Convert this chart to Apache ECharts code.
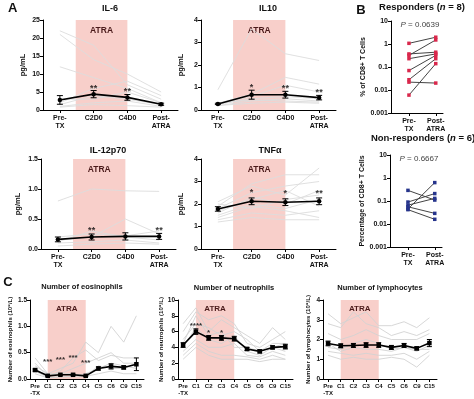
<!DOCTYPE html>
<html>
<head>
<meta charset="utf-8">
<title>ATRA panels</title>
<style>
html,body{margin:0;padding:0;background:#fff}
#main{width:474px;height:399px}
</style>
<script src="https://cdn.jsdelivr.net/npm/echarts@6/dist/echarts.min.js"></script>
</head>
<body>
<div id="main"></div>
<script>
var FONT = 'Liberation Sans, Arial, sans-serif';

// ---- panel A : cytokines ----
var cytoCats = ['Pre-\nTX', 'C2D0', 'C4D0', 'Post-\nATRA'];

var il6Mean = [2.8, 4.4, 3.5, 1.6];
var il6Sem = [1.2, 1.0, 0.8, 0.3];
var il6Stars = [[1, 6.0, '**'], [2, 5.1, '**']];
var il6Lines = [
	[22, 18, 7, 3],
	[21, 14, 10, 5],
	[12, 9, 6, 2],
	[2, 6, 8, 4],
	[1.5, 4, 3, 1.5],
	[1, 2, 2.5, 1],
	[3, 3, 5, 2],
	[0.8, 1.5, 1.2, 0.8]
];

var il10Mean = [0.27, 0.68, 0.68, 0.55];
var il10Sem = [0.03, 0.2, 0.15, 0.1];
var il10Stars = [[1, 1.0, '*'], [2, 0.95, '**'], [3, 0.78, '**']];
var il10Lines = [
	[0.9, 3.6, 2.5, 2.2],
	[0.3, 0.7, 1.45, 1.15],
	[0.25, 0.6, 1.1, 0.8],
	[0.2, 0.4, 0.5, 0.4],
	[0.25, 0.5, 0.6, 0.5],
	[0.3, 0.45, 0.4, 0.35],
	[0.2, 0.3, 0.35, 0.3]
];

var il12Mean = [0.16, 0.2, 0.21, 0.21];
var il12Sem = [0.04, 0.05, 0.06, 0.05];
var il12Stars = [[1, 0.31, '**'], [3, 0.31, '**']];
var il12Lines = [
	[0.8, 1.0, 0.97, 0.96],
	[0.15, 0.2, 0.5, 0.25],
	[0.2, 0.25, 0.22, 0.3],
	[0.1, 0.12, 0.15, 0.1],
	[0.05, 0.08, 0.1, 0.08],
	[0.12, 0.3, 0.2, 0.15]
];

var tnfMean = [1.78, 2.12, 2.08, 2.12];
var tnfSem = [0.1, 0.15, 0.15, 0.15];
var tnfStars = [[1, 2.5, '*'], [2, 2.45, '*'], [3, 2.45, '**']];
var tnfLines = [
	[2.1, 2.8, 2.4, 3.6],
	[1.9, 2.9, 3.3, 3.3],
	[1.8, 2.5, 2.8, 3.0],
	[1.6, 2.3, 2.0, 2.6],
	[1.5, 2.0, 1.8, 2.2],
	[2.0, 1.8, 2.2, 2.4],
	[1.3, 1.6, 1.5, 1.7],
	[1.4, 1.9, 1.7, 1.4],
	[1.7, 2.2, 2.6, 1.9],
	[1.2, 1.4, 1.3, 1.3]
];

// ---- panel B : CD8+ T cells (pre, post) ----
var pairCats = ['Pre-\nTX', 'Post-\nATRA'];
var respPairs = [
	[1.07, 1.97], [0.37, 0.44], [0.32, 1.5], [0.23, 0.37],
	[0.07, 0.32], [0.028, 0.23], [0.022, 0.02], [0.006, 0.14]
];
var nonRespPairs = [
	[0.29, 0.11], [0.09, 0.21], [0.066, 0.13],
	[0.056, 0.029], [0.045, 0.63], [0.042, 0.016]
];
var logTicks = [0.001, 0.01, 0.1, 1, 10];

// ---- panel C : blood counts ----
var cycleCats = ['Pre\n-TX', 'C1', 'C2', 'C3', 'C4', 'C5', 'C6', 'C9', 'C15'];

var eosMean = [0.17, 0.06, 0.08, 0.08, 0.06, 0.2, 0.24, 0.22, 0.28];
var eosSem = [0.02, 0.01, 0.01, 0.01, 0.01, 0.03, 0.05, 0.03, 0.12];
var eosStars = [[1, 0.33, '***'], [2, 0.37, '***'], [3, 0.4, '***'], [4, 0.3, '***']];
var eosLines = [
	[0.4, 0.1, 0.2, 0.3, 0.7, 0.5, 1.0, 0.7, 1.2],
	[0.3, 0.05, 0.15, 0.4, 0.55, 0.35, 0.45, 0.4, 0.4],
	[0.2, 0.05, 0.1, 0.2, 0.3, 0.4, 0.5, 0.3, 0.3],
	[0.15, 0.03, 0.05, 0.05, 0.1, 0.2, 0.3, 0.25, 0.2],
	[0.1, 0.02, 0.04, 0.05, 0.05, 0.1, 0.15, 0.1, 0.1],
	[0.25, 0.1, 0.1, 0.1, 0.05, 0.25, 0.2, 0.2, 0.3]
];

var neuMean = [4.3, 6.0, 5.2, 5.2, 5.1, 3.8, 3.5, 4.0, 4.1];
var neuSem = [0.3, 0.35, 0.3, 0.3, 0.3, 0.2, 0.2, 0.2, 0.3];
var neuStars = [[1, 6.7, '****'], [2, 5.8, '*'], [3, 5.8, '*']];
var neuLines = [
	[7.0, 9.0, 6.0, 7.5, 6.5, 5.5, 4.5, 6.5, 5.0],
	[6.0, 8.5, 7.5, 8.0, 7.0, 4.5, 4.0, 5.0, 6.0],
	[5.0, 7.0, 6.5, 5.5, 6.0, 5.0, 3.5, 4.5, 4.5],
	[4.0, 6.5, 5.0, 4.5, 5.5, 3.5, 3.0, 4.0, 3.5],
	[3.5, 5.0, 4.0, 4.0, 4.5, 3.0, 2.8, 3.5, 3.0],
	[3.0, 4.5, 3.5, 3.0, 3.0, 2.8, 2.5, 3.0, 2.5],
	[2.5, 4.0, 3.0, 2.5, 2.5, 2.5, 2.2, 2.5, 2.5],
	[4.5, 8.0, 5.5, 6.0, 4.0, 4.0, 3.5, 4.0, 4.5]
];

var lymMean = [1.8, 1.68, 1.7, 1.72, 1.72, 1.6, 1.7, 1.55, 1.82];
var lymSem = [0.12, 0.1, 0.1, 0.12, 0.12, 0.1, 0.1, 0.08, 0.18];
var lymLines = [
	[3.3, 2.8, 3.1, 3.4, 2.7, 2.7, 2.9, 2.6, 3.1],
	[2.8, 2.6, 3.4, 2.8, 2.6, 2.2, 2.4, 2.2, 2.5],
	[2.3, 2.0, 2.2, 2.5, 2.2, 2.0, 2.0, 2.0, 2.3],
	[1.8, 1.4, 1.6, 1.5, 1.5, 1.4, 1.6, 1.4, 1.7],
	[1.4, 1.3, 1.2, 1.3, 1.2, 1.2, 1.3, 1.0, 1.4],
	[1.2, 1.0, 1.1, 1.0, 1.0, 1.1, 1.0, 0.6, 1.2],
	[1.6, 1.5, 1.8, 2.0, 1.8, 1.5, 1.6, 1.5, 1.5]
];

var grids = [], xAxes = [], yAxes = [], series = [], graphics = [];

function txt(x, y, s, size, weight, extra) {
	var st = {
		text: s, x: 0, y: 0, fill: '#111',
		font: (weight || 'bold') + ' ' + size + 'px ' + FONT,
		align: 'center', verticalAlign: 'top', textAlign: 'center', textVerticalAlign: 'top'
	};
	for (var k in extra) st[k] = extra[k];
	graphics.push({ type: 'text', x: x, y: y, style: st, z: 100 });
}

function addPanel(c) {
	var i = grids.length;
	grids.push({ left: c.left, top: c.top, width: c.width, height: c.height, outerBoundsMode: 'none', containLabel: false });
	var idx = [];
	for (var k = 0; k < c.cats.length; k++) idx.push(k);
	xAxes.push({
		type: 'value', gridIndex: i, min: c.xMin, max: c.xMax,
		axisLine: { show: true, onZero: false, lineStyle: { color: '#000', width: 1 } },
		axisTick: { show: true, customValues: idx, length: 3, lineStyle: { color: '#000' } },
		axisLabel: {
			customValues: idx, margin: 4, color: '#111', fontFamily: FONT, fontWeight: 'bold',
			fontSize: c.xFont, lineHeight: c.xFont + 1,
			formatter: function (v) { return c.cats[Math.round(v)]; }
		},
		splitLine: { show: false }
	});
	var ya = {
		type: c.log ? 'log' : 'value', gridIndex: i, min: c.yMin, max: c.yMax,
		name: c.yName, nameLocation: 'middle', nameGap: c.yNameGap,
		nameTextStyle: { fontFamily: FONT, fontWeight: 'bold', fontSize: c.yNameFont, color: '#111' },
		axisLine: { show: true, onZero: false, lineStyle: { color: '#000', width: 1 } },
		axisTick: { show: true, length: 3, lineStyle: { color: '#000' } },
		axisLabel: { margin: 3, color: '#111', fontFamily: FONT, fontWeight: 'bold', fontSize: c.yFont, formatter: c.yFmt },
		splitLine: { show: false }
	};
	if (c.log) { ya.logBase = 10; ya.minorTick = { show: false }; }
	else ya.interval = c.yInterval;
	yAxes.push(ya);

	if (c.shade) {
		series.push({
			type: 'custom', xAxisIndex: i, yAxisIndex: i, silent: true, z: 1,
			data: [[c.shade[0], c.shade[1], c.yMax]],
			encode: { x: [0, 1], y: 2 },
			renderItem: function (params, api) {
				var p0 = api.coord([api.value(0), api.value(2)]);
				var p1 = api.coord([api.value(1), c.yMin]);
				return {
					type: 'group', children: [
						{ type: 'rect', shape: { x: p0[0], y: p0[1], width: p1[0] - p0[0], height: p1[1] - p0[1] }, style: { fill: '#f8cfca' } },
						{ type: 'text', x: (p0[0] + p1[0]) / 2, y: p0[1] + c.atraGap, style: { text: 'ATRA', fill: '#4a1a1a', font: 'bold ' + c.atraFont + 'px ' + FONT, align: 'center', verticalAlign: 'top' } }
					]
				};
			}
		});
	}
	(c.lines || []).forEach(function (row) {
		series.push({
			type: 'line', xAxisIndex: i, yAxisIndex: i, silent: true, z: 2,
			symbol: 'none', lineStyle: { color: c.grey, width: 0.9 },
			data: row.map(function (v, j) { return [j, v]; })
		});
	});
	if (c.mean) {
		series.push({
			type: 'line', xAxisIndex: i, yAxisIndex: i, silent: true, z: 5,
			symbol: c.symbol || 'circle', symbolSize: c.symSize || 5,
			itemStyle: { color: '#000' }, lineStyle: { color: '#000', width: 1.6 },
			data: c.mean.map(function (v, j) { return [j, v]; })
		});
		series.push({
			type: 'custom', xAxisIndex: i, yAxisIndex: i, silent: true, z: 6,
			data: c.mean.map(function (v, j) { return [j, v - c.sem[j], v + c.sem[j]]; }),
			encode: { x: 0, y: [1, 2] },
			renderItem: function (params, api) {
				var lo = api.coord([api.value(0), api.value(1)]);
				var hi = api.coord([api.value(0), api.value(2)]);
				var w = c.cap, st = { stroke: '#000', lineWidth: 1 };
				return {
					type: 'group', children: [
						{ type: 'line', shape: { x1: lo[0], y1: lo[1], x2: hi[0], y2: hi[1] }, style: st },
						{ type: 'line', shape: { x1: lo[0] - w, y1: lo[1], x2: lo[0] + w, y2: lo[1] }, style: st },
						{ type: 'line', shape: { x1: hi[0] - w, y1: hi[1], x2: hi[0] + w, y2: hi[1] }, style: st }
					]
				};
			}
		});
	}
	if (c.stars) {
		series.push({
			type: 'scatter', xAxisIndex: i, yAxisIndex: i, silent: true, z: 7,
			symbolSize: 0, data: c.stars,
			label: {
				show: true, position: 'inside', color: '#000', fontFamily: FONT, fontWeight: 'bold', fontSize: c.starFont,
				formatter: function (p) { return p.data[2]; }
			}
		});
	}
	(c.pairs || []).forEach(function (pr) {
		series.push({
			type: 'line', xAxisIndex: i, yAxisIndex: i, silent: true, z: 4,
			symbol: 'rect', symbolSize: 3.5,
			itemStyle: { color: c.dot }, lineStyle: { color: '#444', width: 1 },
			data: [[0, pr[0]], [1, pr[1]]]
		});
	});
}

function fix1(v) { return v.toFixed(1); }
function logFmt(v) {
	var r = logTicks.filter(function (t) { return Math.abs(Math.log10(t) - Math.log10(v)) < 0.01; });
	return r.length ? String(r[0]) : '';
}

var aBase = { cats: cytoCats, xMin: -0.5, xMax: 3.5, xFont: 7, yFont: 7, yName: 'pg/mL', yNameFont: 7.5, yNameGap: 16,
	grey: '#dcdcdc', symbol: 'circle', symSize: 4.5, cap: 3, starFont: 9, atraFont: 8.5, atraGap: 6 };
function ext(base, o) { var r = {}; for (var k in base) r[k] = base[k]; for (var k2 in o) r[k2] = o[k2]; return r; }

addPanel(ext(aBase, { left: 43, top: 20, width: 135, height: 90, yMin: 0, yMax: 25, yInterval: 5,
	shade: [0.47, 2], lines: il6Lines, mean: il6Mean, sem: il6Sem, stars: il6Stars }));
addPanel(ext(aBase, { left: 201, top: 20, width: 135, height: 90, yMin: 0, yMax: 4, yInterval: 1,
	shade: [0.45, 2], lines: il10Lines, mean: il10Mean, sem: il10Sem, stars: il10Stars }));
addPanel(ext(aBase, { left: 41, top: 159, width: 135, height: 90, yMin: 0, yMax: 1.5, yInterval: 0.5, yFmt: fix1, yNameGap: 19,
	shade: [0.45, 2], lines: il12Lines, mean: il12Mean, sem: il12Sem, stars: il12Stars }));
addPanel(ext(aBase, { left: 201, top: 159, width: 135, height: 90, yMin: 0, yMax: 4, yInterval: 1,
	shade: [0.45, 2], lines: tnfLines, mean: tnfMean, sem: tnfSem, stars: tnfStars }));

var bBase = { cats: pairCats, xMin: -0.67, xMax: 1.27, xFont: 7, yFont: 7, log: true, yMin: 0.001, yMax: 10,
	yFmt: logFmt, yNameFont: 7, yNameGap: 24 };
addPanel(ext(bBase, { left: 391, top: 21, width: 52, height: 92, yName: '% of CD8+ T Cells', pairs: respPairs, dot: '#d9284c' }));
addPanel(ext(bBase, { left: 390, top: 155, width: 52, height: 92, yName: 'Percentage of CD8+ T Cells', pairs: nonRespPairs, dot: '#26348c' }));

var cBase = { cats: cycleCats, xMin: -0.4, xMax: 8.6, xFont: 6, yFont: 6.5, yNameFont: 6, grey: '#d2d2d2',
	symbol: 'rect', symSize: 4.5, cap: 2.5, starFont: 8, atraFont: 8, atraGap: 5, top: 300, height: 79, shade: [1, 4] };
addPanel(ext(cBase, { left: 30, width: 114, yMin: 0, yMax: 1.5, yInterval: 0.5, yFmt: fix1, yNameGap: 17,
	yName: 'Number of eosinophils (10\u2079/L)', lines: eosLines, mean: eosMean, sem: eosSem, stars: eosStars }));
addPanel(ext(cBase, { left: 178, width: 115, yMin: 0, yMax: 10, yInterval: 2, yNameGap: 12,
	yName: 'Number of neutrophils (10\u2079/L)', lines: neuLines, mean: neuMean, sem: neuSem, stars: neuStars }));
addPanel(ext(cBase, { left: 323, width: 114, yMin: 0, yMax: 4, yInterval: 1, yNameGap: 12,
	yName: 'Number of lymphocytes (10\u2079/L)', lines: lymLines, mean: lymMean, sem: lymSem }));

// titles and letters
txt(110, 4, 'IL-6', 9);
txt(268, 4, 'IL10', 9);
txt(108, 146, 'IL-12p70', 9);
txt(270, 146, 'TNF\u03b1', 9);
txt(8, 2, 'A', 13, 'bold', { align: 'left', textAlign: 'left' });
txt(361, 4, 'B', 13, 'bold');
txt(8, 276, 'C', 13, 'bold');
var rich = { i: { fontStyle: 'italic', fontWeight: 'bold', fontSize: 9.5, fontFamily: FONT, fill: '#111' } };
txt(422, 2, 'Responders ({i|n} = 8)', 9.5, 'bold', { rich: rich });
txt(423, 133, 'Non-responders ({i|n} = 6)', 9.5, 'bold', { rich: rich });
var richP = { i: { fontStyle: 'italic', fontSize: 8, fontFamily: FONT, fill: '#444' } };
txt(420, 21, '{i|P} = 0.0639', 8, 'normal', { rich: richP, fill: '#444' });
txt(419, 155, '{i|P} = 0.6667', 8, 'normal', { rich: richP, fill: '#444' });
txt(82, 283, 'Number of eosinophils', 7.5);
txt(234, 284, 'Number of neutrophils', 7.5);
txt(380, 284, 'Number of lymphocytes', 7.5);

var chart = echarts.init(document.getElementById('main'), null, { renderer: 'canvas' });
chart.setOption({
	backgroundColor: '#fff',
	animation: false,
	grid: grids,
	xAxis: xAxes,
	yAxis: yAxes,
	series: series,
	graphic: graphics
});
</script>
</body>
</html>
